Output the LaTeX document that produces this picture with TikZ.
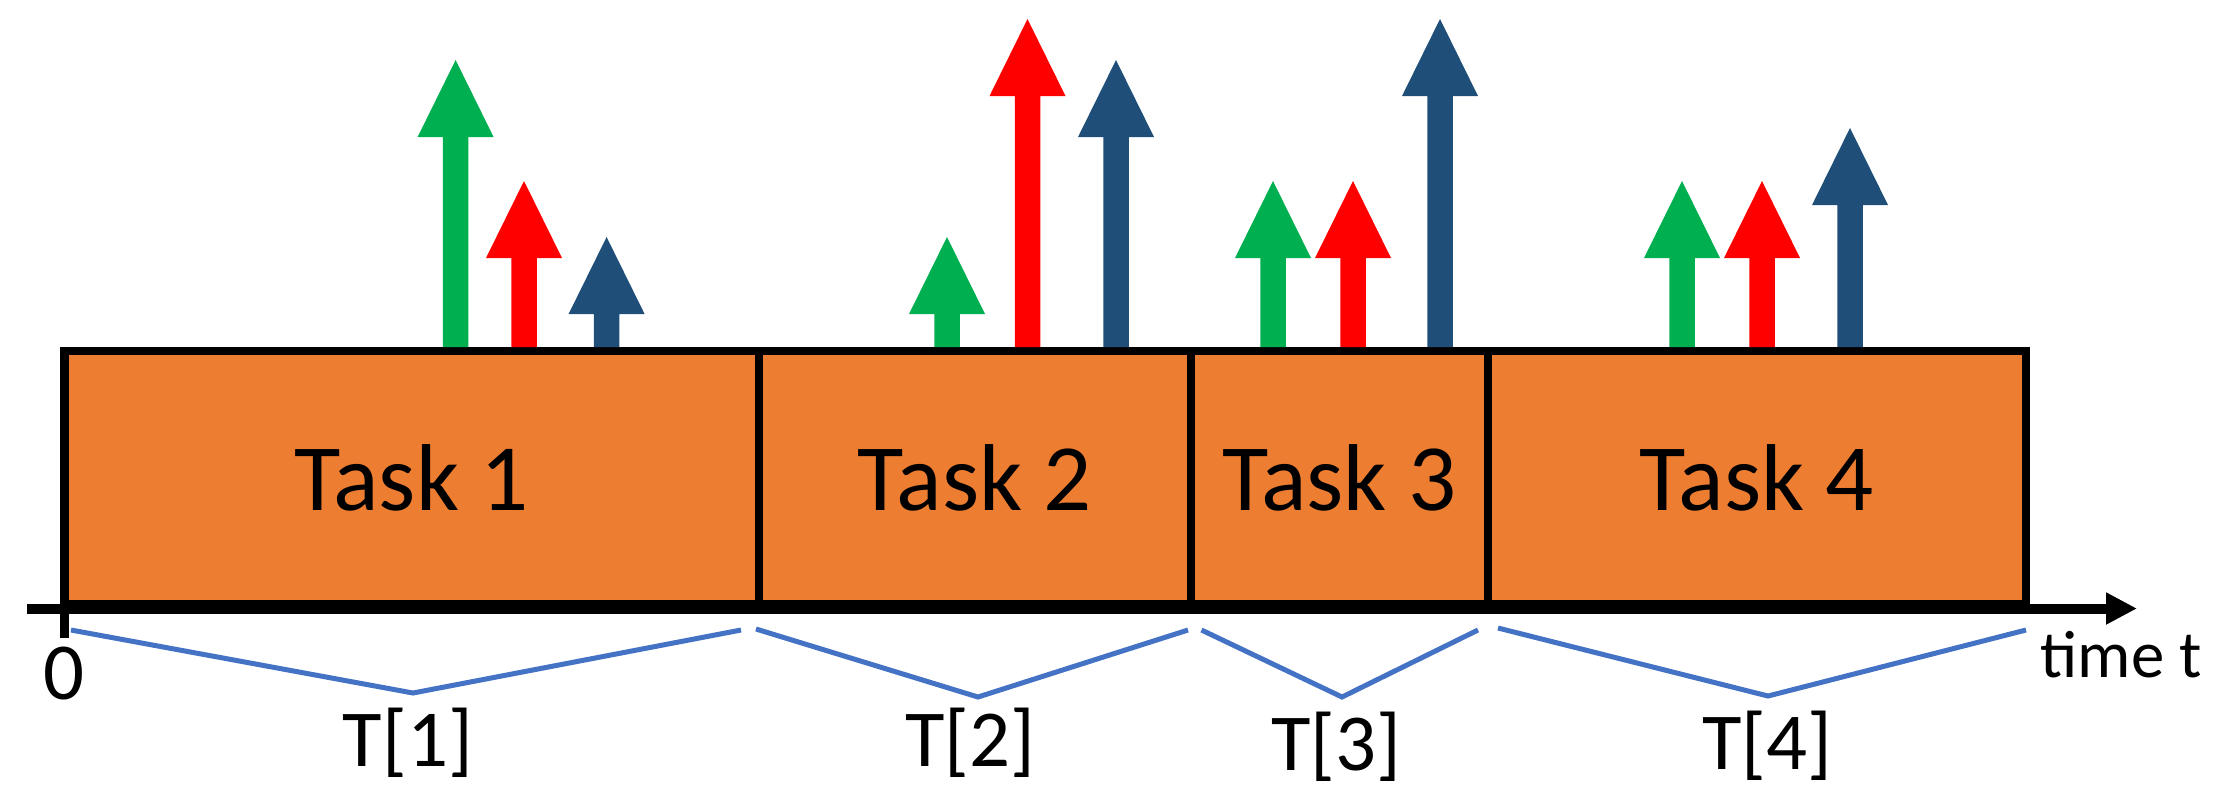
\documentclass[tikz,border=0pt]{standalone}
\usepackage{fontspec}
\setmainfont{Carlito}
\usetikzlibrary{arrows.meta}
\definecolor{tgreen}{HTML}{00B050}
\definecolor{tred}{HTML}{FF0000}
\definecolor{tblue}{HTML}{1F4E79}
\definecolor{torange}{HTML}{ED7D31}
\definecolor{tbrace}{HTML}{4472C4}
% event arrow: colour, centre x, tip y (pixel units)
\newcommand{\evarrow}[3]{%
  \fill[#1] ({#2-12.75},347) -- ({#2-12.75},{#3+77}) -- ({#2-38},{#3+77}) -- (#2,#3)
    -- ({#2+38},{#3+77}) -- ({#2+12.75},{#3+77}) -- ({#2+12.75},347) -- cycle;}
\begin{document}
\begin{tikzpicture}[x=0.01cm,y=-0.01cm,
  taskbox/.style={draw=black, fill=torange, line width=0.085cm, minimum height=2.53cm,
    inner sep=0pt, outer sep=0pt, font=\fontsize{27}{32}\selectfont},
  tlab/.style={anchor=base, inner sep=0pt, font=\fontsize{23}{28}\selectfont},
  bracel/.style={draw=tbrace, line width=0.05cm},
  axisline/.style={line width=0.1cm, -{Triangle[length=0.31cm,width=0.30cm]}}]
\useasboundingbox (0,0) rectangle (2221,805);
% task boxes
\node[taskbox, minimum width=6.945cm] (task1) at (411.75,477.5) {Task 1};
\node[taskbox, minimum width=4.32cm] (task2) at (975,477.5) {Task 2};
\node[taskbox, minimum width=2.97cm] (task3) at (1339.5,477.5) {Task 3};
\node[taskbox, minimum width=5.38cm] (task4) at (1757,477.5) {Task 4};
% event arrows
\evarrow{tgreen}{455.6}{60}
\evarrow{tred}{524}{181}
\evarrow{tblue}{606.6}{237}
\evarrow{tgreen}{947}{237}
\evarrow{tred}{1027.5}{19}
\evarrow{tblue}{1116}{60}
\evarrow{tgreen}{1273}{181}
\evarrow{tred}{1353}{181}
\evarrow{tblue}{1440}{19}
\evarrow{tgreen}{1682}{181}
\evarrow{tred}{1762}{181}
\evarrow{tblue}{1850}{128}
% time axis
\coordinate (axstart) at (27,608.5);
\coordinate (axend) at (2137,608.5);
\draw[axisline] (axstart) -- (axend);
\coordinate (tick0) at (64.5,604);
\coordinate (tick1) at (64.5,638);
\draw[line width=0.09cm] (tick0) -- (tick1);
\node[inner sep=0pt, font=\fontsize{23}{28}\selectfont] (zero) at (64,674) {0};
\node[anchor=base west, inner sep=0pt, font=\fontsize{19}{23}\selectfont] (timet) at (2040,677) {time t};
% period braces
\coordinate (b1a) at (71,630); \coordinate (b1m) at (413,693); \coordinate (b1b) at (741,630);
\coordinate (b2a) at (756,629); \coordinate (b2m) at (978,697); \coordinate (b2b) at (1188,630);
\coordinate (b3a) at (1201.5,630); \coordinate (b3m) at (1342,697); \coordinate (b3b) at (1478,630);
\coordinate (b4a) at (1498,628); \coordinate (b4m) at (1768,696); \coordinate (b4b) at (2026,630);
\draw[bracel] (b1a) -- (b1m) -- (b1b);
\draw[bracel] (b2a) -- (b2m) -- (b2b);
\draw[bracel] (b3a) -- (b3m) -- (b3b);
\draw[bracel] (b4a) -- (b4m) -- (b4b);
\node[tlab] (T1) at (408,766) {T[1]};
\node[tlab] (T2) at (970,766) {T[2]};
\node[tlab] (T3) at (1336,770) {T[3]};
\node[tlab] (T4) at (1767,769) {T[4]};
\end{tikzpicture}
\end{document}
